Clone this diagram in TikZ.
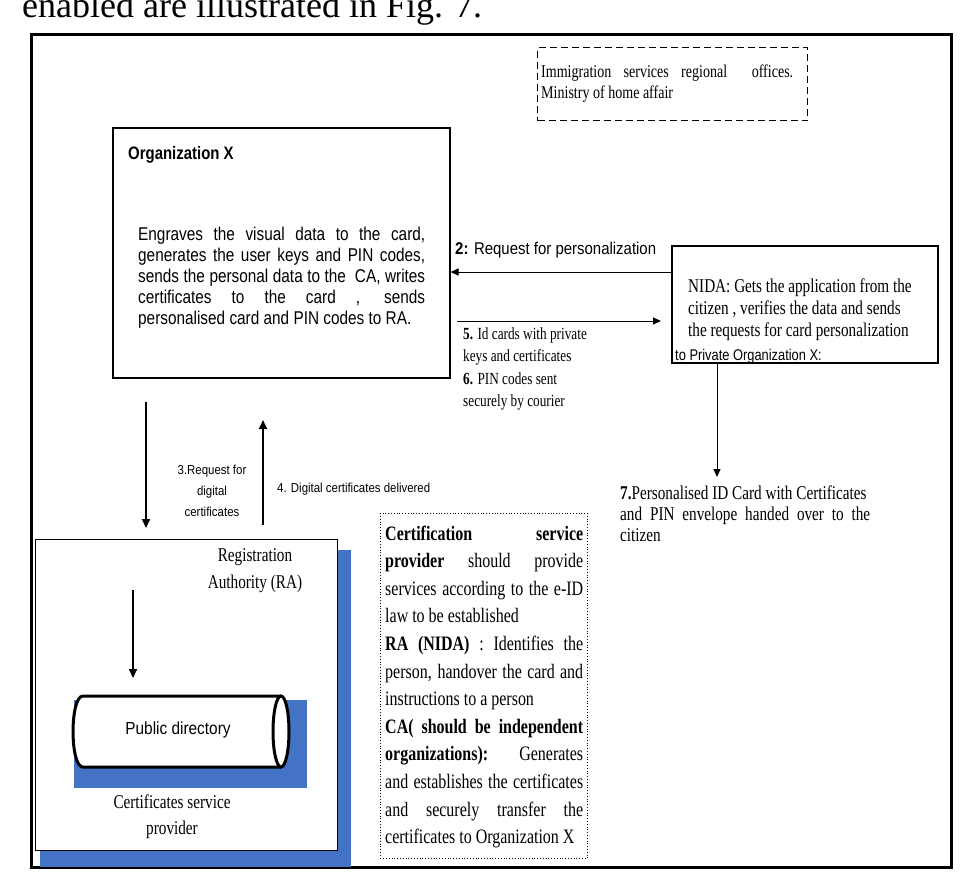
\documentclass[tikz,border=0pt]{standalone}
\usepackage{fontspec}
\setmainfont{Liberation Serif}
\newfontfamily\cserif[FakeStretch=0.78]{Liberation Serif}
\newfontfamily\csans[FakeStretch=0.88]{Liberation Sans}
\newfontfamily\osans[FakeStretch=0.83]{Liberation Sans}
\usetikzlibrary{arrows.meta}
\definecolor{shadowblue}{RGB}{68,114,196}
\tikzset{
  txt/.style={inner sep=0pt, anchor=base west},
  ctxt/.style={inner sep=0pt, anchor=base},
  box/.style={draw, inner sep=0pt, anchor=north west},
  arr/.style={-{Triangle[length=8pt,width=7pt]}, line width=1pt},
  thickarr/.style={-{Triangle[length=9pt,width=8pt]}, line width=2pt},
}
\begin{document}
\begin{tikzpicture}[x=1pt,y=-1pt]
\useasboundingbox (0,0) rectangle (965,873);
\begin{scope}
\clip (0,0) rectangle (965,873);
\node[txt, font=\fontsize{36}{40}\selectfont] (title) at (22,17) {enabled are illustrated in Fig. 7.};
\end{scope}

% outer frame
\node[box, line width=3pt, minimum width=920pt, minimum height=833pt] (frame) at (30,33) {};

% dashed box
\node[box, line width=1.4pt, dash pattern=on 7pt off 4pt, minimum width=270pt, minimum height=73pt] (imm) at (537,47) {};
\node[txt, font=\cserif\fontsize{18}{21}\selectfont] (imm1) at (541,77) {\makebox[252pt][s]{Immigration services regional \ offices.}};
\node[txt, font=\cserif\fontsize{18}{21}\selectfont] (imm2) at (541,98) {Ministry of home affair};

% Organization X
\node[box, line width=1.5pt, minimum width=337pt, minimum height=250pt] (org) at (112,127) {};
\node[txt, font=\osans\bfseries\fontsize{18}{22}\selectfont] (orgt) at (128,159) {Organization X};
\begin{scope}[every node/.style={txt, font=\osans\fontsize{18.5}{21}\selectfont}]
\node (o1) at (138,240) {\makebox[287pt][s]{Engraves the visual data to the card,}};
\node (o2) at (138,261) {\makebox[287pt][s]{generates the user keys and PIN codes,}};
\node (o3) at (138,282) {\makebox[287pt][s]{sends the personal data to the \ CA, writes}};
\node (o4) at (138,303) {\makebox[287pt][s]{certificates to the card , sends}};
\node (o5) at (138,324) {personalised card and PIN codes to RA.};
\end{scope}

% NIDA
\node[box, line width=1.5pt, minimum width=266pt, minimum height=117pt] (nida) at (671,245) {};
\begin{scope}[every node/.style={txt, font=\cserif\fontsize{19.5}{22}\selectfont}]
\node (n1) at (688,292) {NIDA: Gets the application from the};
\node (n2) at (688,314) {citizen , verifies the data and sends};
\node (n3) at (688,336) {the requests for card personalization};
\node[font=\osans\fontsize{15.5}{18}\selectfont] (n4) at (675,360) {to Private Organization X:};
\end{scope}

% arrows 2 and 5
\coordinate (a2s) at (nida.west |- 0,272);
\coordinate (a2e) at (org.east |- 0,272);
\draw[arr] (a2s) -- (a2e);
\node[txt, font=\csans\fontsize{17}{21}\selectfont] (l2) at (455,254) {\textbf{2:} Request for personalization};
\coordinate (a5s) at (457,321);
\coordinate (a5e) at (661,321);
\draw[arr] (a5s) -- (a5e);
\begin{scope}[every node/.style={txt, font=\cserif\fontsize{17}{22}\selectfont}]
\node (l5a) at (463,339) {\textbf{5.} Id cards with private};
\node (l5b) at (463,361) {keys and certificates};
\node (l5c) at (463,384) {\textbf{6.} PIN codes sent};
\node (l5d) at (463,406) {securely by courier};
\end{scope}

% arrow 7
\coordinate (a7s) at (nida.south -| 717,0);
\coordinate (a7e) at (717,477);
\draw[arr] (a7s) -- (a7e);
\begin{scope}[every node/.style={txt, font=\cserif\fontsize{19.5}{21}\selectfont}]
\node (l7a) at (620,499) {\textbf{7.}Personalised ID Card with Certificates};
\node (l7b) at (620,520) {\makebox[250pt][s]{and PIN envelope handed over to the}};
\node (l7c) at (620,541) {citizen};
\end{scope}

% arrows 3 and 4
\coordinate (a3s) at (146,402);
\coordinate (a3e) at (146,528);
\draw[thickarr] (a3s) -- (a3e);
\coordinate (a4s) at (263,525);
\coordinate (a4e) at (263,420);
\draw[thickarr] (a4s) -- (a4e);
\begin{scope}[every node/.style={ctxt, font=\csans\fontsize{13}{16}\selectfont}]
\node (l3a) at (212,474) {3.Request for};
\node (l3b) at (212,495) {digital};
\node (l3c) at (212,516) {certificates};
\end{scope}
\node[txt, font=\csans\fontsize{13}{16}\selectfont] (l4) at (277,492) {4. Digital certificates delivered};

% Certificates service provider
\fill[shadowblue] (40,550) rectangle (351,867);
\node[box, fill=white, line width=1pt, minimum width=302pt, minimum height=311pt] (csp) at (35,539) {};
\begin{scope}[every node/.style={ctxt, font=\cserif\fontsize{19.5}{22}\selectfont}]
\node (ra1) at (255,561) {Registration};
\node (ra2) at (255,588) {Authority (RA)};
\node (cs1) at (172,808) {Certificates service};
\node (cs2) at (172,834) {provider};
\end{scope}
\coordinate (a8s) at (133,590);
\coordinate (a8e) at (133,678);
\draw[thickarr] (a8s) -- (a8e);

% public directory cylinder
\fill[shadowblue] (74,700) rectangle (307,788);
\fill[white] (83,696) -- (281,696) -- (281,767) -- (83,767) .. controls (69.7,767) and (69.7,696) .. (83,696) -- cycle;
\draw[line width=3pt] (281,696) -- (83,696) .. controls (69.7,696) and (69.7,767) .. (83,767) -- (281,767);
\draw[line width=3pt, fill=white] (281,731.5) ellipse [x radius=8pt, y radius=35.5pt];
\node[ctxt, font=\csans\fontsize{17.5}{21}\selectfont] (pd) at (178,734) {Public directory};

% notes box
\node[box, dotted, line width=0.8pt, minimum width=207pt, minimum height=345pt] (notes) at (380,513) {};
\begin{scope}[every node/.style={txt, font=\cserif\fontsize{20.5}{27.6}\selectfont}]
\node (t1) at (385,540) {\makebox[198pt][s]{\bfseries Certification service}};
\node (t2) at (385,567.6) {\makebox[198pt][s]{\bfseries provider\mdseries{} should provide}};
\node (t3) at (385,595.2) {\makebox[198pt][s]{services according to the e-ID}};
\node (t4) at (385,622.8) {law to be established};
\node (t5) at (385,650.4) {\makebox[198pt][s]{\bfseries RA (NIDA)\mdseries{} : Identifies the}};
\node (t6) at (385,678) {\makebox[198pt][s]{person, handover the card and}};
\node (t7) at (385,705.6) {instructions to a person};
\node (t8) at (385,733.2) {\makebox[198pt][s]{\bfseries CA( should be independent}};
\node (t9) at (385,760.8) {\makebox[198pt][s]{\bfseries organizations):\mdseries{} Generates}};
\node (t10) at (385,788.4) {\makebox[198pt][s]{and establishes the certificates}};
\node (t11) at (385,816) {\makebox[198pt][s]{and securely transfer the}};
\node (t12) at (385,843.6) {certificates to Organization X};
\end{scope}
\end{tikzpicture}
\end{document}
